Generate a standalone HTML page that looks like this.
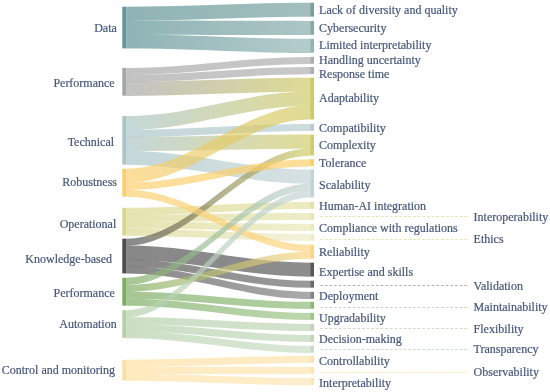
<!DOCTYPE html><html><head><meta charset="utf-8"><title>Sankey</title><style>html,body{margin:0;padding:0;background:#fff}svg{display:block}text{font-family:"Liberation Serif","Times New Roman",serif;font-size:12.0px;fill:#46577a;stroke:#46577a;stroke-width:0.2px}</style></head><body>
<svg width="550" height="392" viewBox="0 0 550 392">
<defs><filter id="bl" x="0" y="0" width="550" height="392" filterUnits="userSpaceOnUse"><feGaussianBlur stdDeviation="0.35"/></filter><linearGradient id="g0" gradientUnits="userSpaceOnUse" x1="126.2" x2="310.2" y1="0" y2="0"><stop offset="0" stop-color="#5a9092"/><stop offset="1" stop-color="#76a09d"/></linearGradient><linearGradient id="g1" gradientUnits="userSpaceOnUse" x1="126.2" x2="310.2" y1="0" y2="0"><stop offset="0" stop-color="#5a9092"/><stop offset="1" stop-color="#84aaa8"/></linearGradient><linearGradient id="g2" gradientUnits="userSpaceOnUse" x1="126.2" x2="310.2" y1="0" y2="0"><stop offset="0" stop-color="#5a9092"/><stop offset="1" stop-color="#92b4b4"/></linearGradient><linearGradient id="g3" gradientUnits="userSpaceOnUse" x1="126.2" x2="310.2" y1="0" y2="0"><stop offset="0" stop-color="#a6a6a6"/><stop offset="1" stop-color="#adadad"/></linearGradient><linearGradient id="g4" gradientUnits="userSpaceOnUse" x1="126.2" x2="310.2" y1="0" y2="0"><stop offset="0" stop-color="#a6a6a6"/><stop offset="1" stop-color="#adadad"/></linearGradient><linearGradient id="g5" gradientUnits="userSpaceOnUse" x1="126.2" x2="310.2" y1="0" y2="0"><stop offset="0" stop-color="#a6a6a6"/><stop offset="1" stop-color="#cfc962"/></linearGradient><linearGradient id="g6" gradientUnits="userSpaceOnUse" x1="126.2" x2="310.2" y1="0" y2="0"><stop offset="0" stop-color="#a9c4c6"/><stop offset="1" stop-color="#cfc962"/></linearGradient><linearGradient id="g7" gradientUnits="userSpaceOnUse" x1="126.2" x2="310.2" y1="0" y2="0"><stop offset="0" stop-color="#a9c4c6"/><stop offset="1" stop-color="#b6cbcf"/></linearGradient><linearGradient id="g8" gradientUnits="userSpaceOnUse" x1="126.2" x2="310.2" y1="0" y2="0"><stop offset="0" stop-color="#a9c4c6"/><stop offset="1" stop-color="#d2cc66"/></linearGradient><linearGradient id="g9" gradientUnits="userSpaceOnUse" x1="126.2" x2="310.2" y1="0" y2="0"><stop offset="0" stop-color="#a9c4c6"/><stop offset="1" stop-color="#c2d3d5"/></linearGradient><linearGradient id="g10" gradientUnits="userSpaceOnUse" x1="126.2" x2="310.2" y1="0" y2="0"><stop offset="0" stop-color="#fdce6c"/><stop offset="1" stop-color="#cfc962"/></linearGradient><linearGradient id="g11" gradientUnits="userSpaceOnUse" x1="126.2" x2="310.2" y1="0" y2="0"><stop offset="0" stop-color="#fdce6c"/><stop offset="1" stop-color="#fbcf66"/></linearGradient><linearGradient id="g12" gradientUnits="userSpaceOnUse" x1="126.2" x2="310.2" y1="0" y2="0"><stop offset="0" stop-color="#fdce6c"/><stop offset="1" stop-color="#fdd480"/></linearGradient><linearGradient id="g13" gradientUnits="userSpaceOnUse" x1="126.2" x2="310.2" y1="0" y2="0"><stop offset="0" stop-color="#dad78c"/><stop offset="1" stop-color="#e3e0a2"/></linearGradient><linearGradient id="g14" gradientUnits="userSpaceOnUse" x1="126.2" x2="310.2" y1="0" y2="0"><stop offset="0" stop-color="#dad78c"/><stop offset="1" stop-color="#e7e4ae"/></linearGradient><linearGradient id="g15" gradientUnits="userSpaceOnUse" x1="126.2" x2="310.2" y1="0" y2="0"><stop offset="0" stop-color="#dad78c"/><stop offset="1" stop-color="#eae8ba"/></linearGradient><linearGradient id="g16" gradientUnits="userSpaceOnUse" x1="126.2" x2="310.2" y1="0" y2="0"><stop offset="0" stop-color="#dad78c"/><stop offset="1" stop-color="#eeecc8"/></linearGradient><linearGradient id="g17" gradientUnits="userSpaceOnUse" x1="126.2" x2="310.2" y1="0" y2="0"><stop offset="0" stop-color="#4e4e4e"/><stop offset="1" stop-color="#d2cc66"/></linearGradient><linearGradient id="g18" gradientUnits="userSpaceOnUse" x1="126.2" x2="310.2" y1="0" y2="0"><stop offset="0" stop-color="#4e4e4e"/><stop offset="1" stop-color="#585858"/></linearGradient><linearGradient id="g19" gradientUnits="userSpaceOnUse" x1="126.2" x2="310.2" y1="0" y2="0"><stop offset="0" stop-color="#4e4e4e"/><stop offset="1" stop-color="#6a6a6a"/></linearGradient><linearGradient id="g20" gradientUnits="userSpaceOnUse" x1="126.2" x2="310.2" y1="0" y2="0"><stop offset="0" stop-color="#4e4e4e"/><stop offset="1" stop-color="#828282"/></linearGradient><linearGradient id="g21" gradientUnits="userSpaceOnUse" x1="126.2" x2="310.2" y1="0" y2="0"><stop offset="0" stop-color="#7cac62"/><stop offset="1" stop-color="#c2d3d5"/></linearGradient><linearGradient id="g22" gradientUnits="userSpaceOnUse" x1="126.2" x2="310.2" y1="0" y2="0"><stop offset="0" stop-color="#7cac62"/><stop offset="1" stop-color="#fdd480"/></linearGradient><linearGradient id="g23" gradientUnits="userSpaceOnUse" x1="126.2" x2="310.2" y1="0" y2="0"><stop offset="0" stop-color="#7cac62"/><stop offset="1" stop-color="#8cb876"/></linearGradient><linearGradient id="g24" gradientUnits="userSpaceOnUse" x1="126.2" x2="310.2" y1="0" y2="0"><stop offset="0" stop-color="#7cac62"/><stop offset="1" stop-color="#9cc488"/></linearGradient><linearGradient id="g25" gradientUnits="userSpaceOnUse" x1="126.2" x2="310.2" y1="0" y2="0"><stop offset="0" stop-color="#b4d0a8"/><stop offset="1" stop-color="#c2d3d5"/></linearGradient><linearGradient id="g26" gradientUnits="userSpaceOnUse" x1="126.2" x2="310.2" y1="0" y2="0"><stop offset="0" stop-color="#b4d0a8"/><stop offset="1" stop-color="#bed4b6"/></linearGradient><linearGradient id="g27" gradientUnits="userSpaceOnUse" x1="126.2" x2="310.2" y1="0" y2="0"><stop offset="0" stop-color="#b4d0a8"/><stop offset="1" stop-color="#c0d6b8"/></linearGradient><linearGradient id="g28" gradientUnits="userSpaceOnUse" x1="126.2" x2="310.2" y1="0" y2="0"><stop offset="0" stop-color="#b4d0a8"/><stop offset="1" stop-color="#c8dcc4"/></linearGradient><linearGradient id="g29" gradientUnits="userSpaceOnUse" x1="126.2" x2="310.2" y1="0" y2="0"><stop offset="0" stop-color="#fde0a0"/><stop offset="1" stop-color="#fde2a8"/></linearGradient><linearGradient id="g30" gradientUnits="userSpaceOnUse" x1="126.2" x2="310.2" y1="0" y2="0"><stop offset="0" stop-color="#fde0a0"/><stop offset="1" stop-color="#fde4ae"/></linearGradient><linearGradient id="g31" gradientUnits="userSpaceOnUse" x1="126.2" x2="310.2" y1="0" y2="0"><stop offset="0" stop-color="#fde0a0"/><stop offset="1" stop-color="#fee6b4"/></linearGradient></defs>
<g filter="url(#bl)">
<g fill-opacity="0.68"><path d="M126.20,6.70C192.44,6.70 243.96,2.75 310.20,2.75L310.20,16.85C243.96,16.85 192.44,20.80 126.20,20.80Z" fill="url(#g0)"/><path d="M126.20,20.60C192.44,20.60 243.96,20.90 310.20,20.90L310.20,35.00C243.96,35.00 192.44,34.70 126.20,34.70Z" fill="url(#g1)"/><path d="M126.20,34.50C192.44,34.50 243.96,38.80 310.20,38.80L310.20,52.90C243.96,52.90 192.44,48.60 126.20,48.60Z" fill="url(#g2)"/><path d="M126.20,67.90C192.44,67.90 243.96,56.88 310.20,56.88L310.20,64.03C243.96,64.03 192.44,75.05 126.20,75.05Z" fill="url(#g3)"/><path d="M126.20,74.85C192.44,74.85 243.96,67.03 310.20,67.03L310.20,74.18C243.96,74.18 192.44,82.00 126.20,82.00Z" fill="url(#g4)"/><path d="M126.20,81.80C192.44,81.80 243.96,77.70 310.20,77.70L310.20,91.80C243.96,91.80 192.44,95.90 126.20,95.90Z" fill="url(#g5)"/><path d="M126.20,115.98C192.44,115.98 243.96,91.60 310.20,91.60L310.20,105.70C243.96,105.70 192.44,130.08 126.20,130.08Z" fill="url(#g6)"/><path d="M126.20,129.88C192.44,129.88 243.96,123.88 310.20,123.88L310.20,131.03C243.96,131.03 192.44,137.03 126.20,137.03Z" fill="url(#g7)"/><path d="M126.20,136.83C192.44,136.83 243.96,134.62 310.20,134.62L310.20,148.72C243.96,148.72 192.44,150.93 126.20,150.93Z" fill="url(#g8)"/><path d="M126.20,150.73C192.44,150.73 243.96,169.60 310.20,169.60L310.20,183.70C243.96,183.70 192.44,164.83 126.20,164.83Z" fill="url(#g9)"/><path d="M126.20,207.80C192.44,207.80 243.96,201.88 310.20,201.88L310.20,209.03C243.96,209.03 192.44,214.95 126.20,214.95Z" fill="url(#g13)"/><path d="M126.20,214.75C192.44,214.75 243.96,212.93 310.20,212.93L310.20,220.08C243.96,220.08 192.44,221.90 126.20,221.90Z" fill="url(#g14)"/><path d="M126.20,221.70C192.44,221.70 243.96,223.72 310.20,223.72L310.20,230.88C243.96,230.88 192.44,228.85 126.20,228.85Z" fill="url(#g15)"/><path d="M126.20,228.65C192.44,228.65 243.96,233.93 310.20,233.93L310.20,241.08C243.96,241.08 192.44,235.80 126.20,235.80Z" fill="url(#g16)"/><path d="M126.20,238.68C192.44,238.68 243.96,148.53 310.20,148.53L310.20,155.68C243.96,155.68 192.44,245.83 126.20,245.83Z" fill="url(#g17)"/><path d="M126.20,245.62C192.44,245.62 243.96,262.65 310.20,262.65L310.20,276.75C243.96,276.75 192.44,259.73 126.20,259.73Z" fill="url(#g18)"/><path d="M126.20,259.53C192.44,259.53 243.96,280.72 310.20,280.72L310.20,287.87C243.96,287.87 192.44,266.68 126.20,266.68Z" fill="url(#g19)"/><path d="M126.20,266.48C192.44,266.48 243.96,291.82 310.20,291.82L310.20,298.97C243.96,298.97 192.44,273.62 126.20,273.62Z" fill="url(#g20)"/><path d="M126.20,168.85C192.44,168.85 243.96,105.50 310.20,105.50L310.20,119.60C243.96,119.60 192.44,182.95 126.20,182.95Z" fill="url(#g10)"/><path d="M126.20,182.75C192.44,182.75 243.96,159.22 310.20,159.22L310.20,166.38C243.96,166.38 192.44,189.90 126.20,189.90Z" fill="url(#g11)"/><path d="M126.20,189.70C192.44,189.70 243.96,244.75 310.20,244.75L310.20,251.90C243.96,251.90 192.44,196.85 126.20,196.85Z" fill="url(#g12)"/><path d="M126.20,277.80C192.44,277.80 243.96,183.50 310.20,183.50L310.20,190.65C243.96,190.65 192.44,284.95 126.20,284.95Z" fill="url(#g21)"/><path d="M126.20,284.75C192.44,284.75 243.96,251.70 310.20,251.70L310.20,258.85C243.96,258.85 192.44,291.90 126.20,291.90Z" fill="url(#g22)"/><path d="M126.20,291.70C192.44,291.70 243.96,301.77 310.20,301.77L310.20,308.92C243.96,308.92 192.44,298.85 126.20,298.85Z" fill="url(#g23)"/><path d="M126.20,298.65C192.44,298.65 243.96,312.88 310.20,312.88L310.20,320.02C243.96,320.02 192.44,305.80 126.20,305.80Z" fill="url(#g24)"/><path d="M126.20,310.15C192.44,310.15 243.96,190.45 310.20,190.45L310.20,197.60C243.96,197.60 192.44,317.30 126.20,317.30Z" fill="url(#g25)"/><path d="M126.20,317.10C192.44,317.10 243.96,323.88 310.20,323.88L310.20,331.02C243.96,331.02 192.44,324.25 126.20,324.25Z" fill="url(#g26)"/><path d="M126.20,324.05C192.44,324.05 243.96,334.92 310.20,334.92L310.20,342.07C243.96,342.07 192.44,331.20 126.20,331.20Z" fill="url(#g27)"/><path d="M126.20,331.00C192.44,331.00 243.96,345.82 310.20,345.82L310.20,352.97C243.96,352.97 192.44,338.15 126.20,338.15Z" fill="url(#g28)"/><path d="M126.20,359.82C192.44,359.82 243.96,355.88 310.20,355.88L310.20,363.02C243.96,363.02 192.44,366.97 126.20,366.97Z" fill="url(#g29)"/><path d="M126.20,366.77C192.44,366.77 243.96,366.92 310.20,366.92L310.20,374.07C243.96,374.07 192.44,373.92 126.20,373.92Z" fill="url(#g30)"/><path d="M126.20,373.72C192.44,373.72 243.96,378.12 310.20,378.12L310.20,385.27C243.96,385.27 192.44,380.87 126.20,380.87Z" fill="url(#g31)"/></g>
<rect x="122.3" y="6.70" width="3.90" height="41.70" fill="#649799"/>
<rect x="122.3" y="67.90" width="3.90" height="27.80" fill="#a6a6a6"/>
<rect x="122.3" y="115.98" width="3.90" height="48.65" fill="#a9c4c6"/>
<rect x="122.3" y="168.85" width="3.90" height="27.80" fill="#fdce6c"/>
<rect x="122.3" y="207.80" width="3.90" height="27.80" fill="#dad78c"/>
<rect x="122.3" y="238.68" width="3.90" height="34.75" fill="#4e4e4e"/>
<rect x="122.3" y="277.80" width="3.90" height="27.80" fill="#7cac62"/>
<rect x="122.3" y="310.15" width="3.90" height="27.80" fill="#b4d0a8"/>
<rect x="122.3" y="359.82" width="3.90" height="20.85" fill="#fde0a0"/>
<rect x="310.2" y="2.75" width="3.80" height="13.90" fill="#76a09d"/>
<rect x="310.2" y="20.90" width="3.80" height="13.90" fill="#84aaa8"/>
<rect x="310.2" y="38.80" width="3.80" height="13.90" fill="#92b4b4"/>
<rect x="310.2" y="56.88" width="3.80" height="6.95" fill="#adadad"/>
<rect x="310.2" y="67.03" width="3.80" height="6.95" fill="#adadad"/>
<rect x="310.2" y="77.70" width="3.80" height="41.70" fill="#cfc962"/>
<rect x="310.2" y="123.88" width="3.80" height="6.95" fill="#b6cbcf"/>
<rect x="310.2" y="134.62" width="3.80" height="20.85" fill="#d2cc66"/>
<rect x="310.2" y="159.22" width="3.80" height="6.95" fill="#fbcf66"/>
<rect x="310.2" y="169.60" width="3.80" height="27.80" fill="#c2d3d5"/>
<rect x="310.2" y="201.88" width="3.80" height="6.95" fill="#e3e0a2"/>
<rect x="310.2" y="212.93" width="3.80" height="6.95" fill="#e7e4ae"/>
<line x1="320.2" x2="468.0" y1="216.50" y2="216.50" stroke="#dcd894" stroke-width="0.75" stroke-dasharray="2.6 2.05"/>
<rect x="310.2" y="223.72" width="3.80" height="6.95" fill="#eae8ba"/>
<rect x="310.2" y="233.93" width="3.80" height="6.95" fill="#eeecc8"/>
<line x1="320.2" x2="468.0" y1="239.50" y2="239.50" stroke="#dedb9a" stroke-width="0.75" stroke-dasharray="2.6 2.05"/>
<rect x="310.2" y="244.75" width="3.80" height="13.90" fill="#fdd480"/>
<rect x="310.2" y="262.65" width="3.80" height="13.90" fill="#585858"/>
<rect x="310.2" y="280.72" width="3.80" height="6.95" fill="#6a6a6a"/>
<line x1="320.2" x2="468.0" y1="285.50" y2="285.50" stroke="#969696" stroke-width="0.75" stroke-dasharray="2.6 2.05"/>
<rect x="310.2" y="291.82" width="3.80" height="6.95" fill="#828282"/>
<rect x="310.2" y="301.77" width="3.80" height="6.95" fill="#8cb876"/>
<line x1="320.2" x2="468.0" y1="307.50" y2="307.50" stroke="#b0caa4" stroke-width="0.75" stroke-dasharray="2.6 2.05"/>
<rect x="310.2" y="312.88" width="3.80" height="6.95" fill="#9cc488"/>
<rect x="310.2" y="323.88" width="3.80" height="6.95" fill="#bed4b6"/>
<line x1="320.2" x2="468.0" y1="328.50" y2="328.50" stroke="#b8d0ae" stroke-width="0.75" stroke-dasharray="2.6 2.05"/>
<rect x="310.2" y="334.92" width="3.80" height="6.95" fill="#c0d6b8"/>
<rect x="310.2" y="345.82" width="3.80" height="6.95" fill="#c8dcc4"/>
<line x1="320.2" x2="468.0" y1="349.50" y2="349.50" stroke="#bcd2b2" stroke-width="0.75" stroke-dasharray="2.6 2.05"/>
<rect x="310.2" y="355.88" width="3.80" height="6.95" fill="#fde2a8"/>
<rect x="310.2" y="366.92" width="3.80" height="6.95" fill="#fde4ae"/>
<line x1="320.2" x2="468.0" y1="372.50" y2="372.50" stroke="#fddf9a" stroke-width="0.75" stroke-dasharray="2.6 2.05"/>
<rect x="310.2" y="378.12" width="3.80" height="6.95" fill="#fee6b4"/>
</g>
<text x="116.8" y="31.7" text-anchor="end">Data</text>
<text x="114.7" y="86.5" text-anchor="end">Performance</text>
<text x="114.1" y="145.7" text-anchor="end">Technical</text>
<text x="117.0" y="185.8" text-anchor="end">Robustness</text>
<text x="116.3" y="228.1" text-anchor="end">Operational</text>
<text x="112.0" y="262.5" text-anchor="end">Knowledge-based</text>
<text x="114.8" y="297.3" text-anchor="end">Performance</text>
<text x="116.7" y="327.6" text-anchor="end">Automation</text>
<text x="115.1" y="373.6" text-anchor="end">Control and monitoring</text>
<text x="319.1" y="13.8">Lack of diversity and quality</text>
<text x="319.1" y="31.6">Cybersecurity</text>
<text x="319.1" y="49.3">Limited interpretability</text>
<text x="319.1" y="64.0">Handling uncertainty</text>
<text x="319.1" y="78.3">Response time</text>
<text x="319.1" y="101.5">Adaptability</text>
<text x="319.1" y="131.6">Compatibility</text>
<text x="319.1" y="148.6">Complexity</text>
<text x="319.1" y="166.6">Tolerance</text>
<text x="319.1" y="188.5">Scalability</text>
<text x="319.1" y="209.9">Human-AI integration</text>
<text x="473.6" y="221.0">Interoperability</text>
<text x="319.1" y="232.4">Compliance with regulations</text>
<text x="473.6" y="242.5">Ethics</text>
<text x="319.1" y="255.9">Reliability</text>
<text x="319.1" y="275.7">Expertise and skills</text>
<text x="473.6" y="290.0">Validation</text>
<text x="319.1" y="300.0">Deployment</text>
<text x="473.6" y="311.2">Maintainability</text>
<text x="319.1" y="322.3">Upgradability</text>
<text x="473.6" y="333.0">Flexibility</text>
<text x="319.1" y="342.6">Decision-making</text>
<text x="473.6" y="353.3">Transparency</text>
<text x="319.1" y="365.2">Controllability</text>
<text x="473.6" y="376.3">Observability</text>
<text x="319.1" y="387.2">Interpretability</text>
</svg></body></html>
